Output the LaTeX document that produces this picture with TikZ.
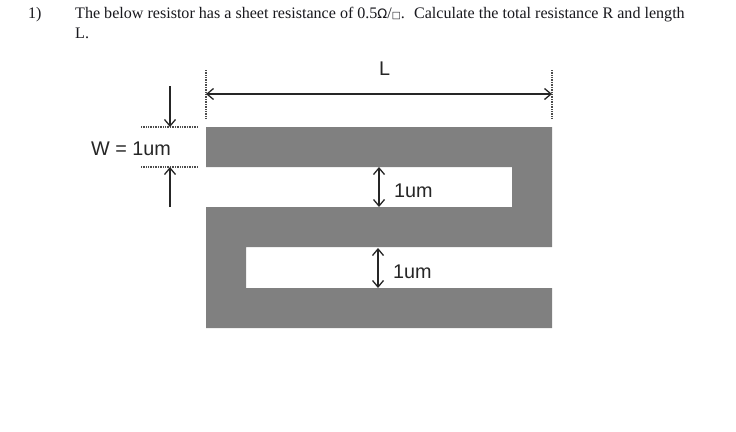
\documentclass[tikz,border=0pt]{standalone}
\usepackage{fontspec}
\setmainfont{Liberation Serif}
\newfontfamily\lblfont{Liberation Sans}
\newfontfamily\symfont{DejaVu Sans}
\usetikzlibrary{arrows.meta}
\definecolor{resgray}{RGB}{128,128,128}
\definecolor{inkc}{RGB}{25,25,30}
\tikzset{
  px/.style={x=1pt,y=-1pt},
  para/.style={font=\fontsize{16.08}{18}\selectfont,text=inkc,inner sep=0pt,anchor=base west},
  lbl/.style={font=\lblfont\fontsize{19.8}{22}\selectfont,text=black!85,inner sep=0pt,anchor=base west},
  dim/.style={draw=black!85,line width=1.6pt,-{Straight Barb[length=6.5pt,width=11pt,line width=1.3pt]}},
  dimboth/.style={draw=black!85,line width=1.6pt,{Straight Barb[length=6.5pt,width=11pt,line width=1.3pt]}-{Straight Barb[length=6.5pt,width=11pt,line width=1.3pt]}},
  guide/.style={draw=black!70,line width=1.1pt,dash pattern=on 1pt off 0.7pt},
}
\begin{document}
\begin{tikzpicture}[px]
\useasboundingbox (0,0) rectangle (736,431);
\fill[white] (0,0) rectangle (736,431);
% resistor
\fill[resgray] (206,127) -- (552,127) -- (552,247) -- (246,247) -- (246,288) -- (552,288) -- (552,328) -- (206,328) -- (206,207) -- (512,207) -- (512,167) -- (206,167) -- cycle;
% text
\node[para] (n1) at (28,18) {1)};
\node[para] (t1) at (75,18) {The below resistor has a sheet resistance of 0.5{\symfont\fontsize{13}{14}\selectfont Ω}/{\symfont\fontsize{9.5}{10}\selectfont □}.\ \ \kern1.2pt Calculate the total resistance R and length};
\node[para] (t2) at (75,38) {L.};
\node[lbl] (lL) at (379,75) {L};
\node[lbl] (lW) at (91,155) {W = 1um};
\node[lbl] (l1) at (394,197) {1um};
\node[lbl] (l2) at (393,278) {1um};
% guides
\coordinate (gLa) at (206,70);
\coordinate (gLb) at (206,118);
\coordinate (gRa) at (552,70);
\coordinate (gRb) at (552,118);
\draw[guide] (gLa) -- (gLb);
\draw[guide] (gRa) -- (gRb);
\coordinate (gWa) at (141,127);
\coordinate (gWb) at (198,127);
\coordinate (gWc) at (141,167);
\coordinate (gWd) at (198,167);
\draw[guide] (gWa) -- (gWb);
\draw[guide] (gWc) -- (gWd);
% L dimension
\coordinate (dLa) at (206,94);
\coordinate (dLb) at (552,94);
\draw[dimboth] (dLa) -- (dLb);
% W arrows
\coordinate (wa) at (170,86);
\coordinate (wb) at (170,127);
\coordinate (wc) at (170,207);
\coordinate (wd) at (170,167);
\draw[dim] (wa) -- (wb);
\draw[dim] (wc) -- (wd);
% gap dims
\coordinate (g1a) at (379,167);
\coordinate (g1b) at (379,207);
\coordinate (g2a) at (378,248);
\coordinate (g2b) at (378,288);
\draw[dimboth] (g1a) -- (g1b);
\draw[dimboth] (g2a) -- (g2b);
\end{tikzpicture}
\end{document}
